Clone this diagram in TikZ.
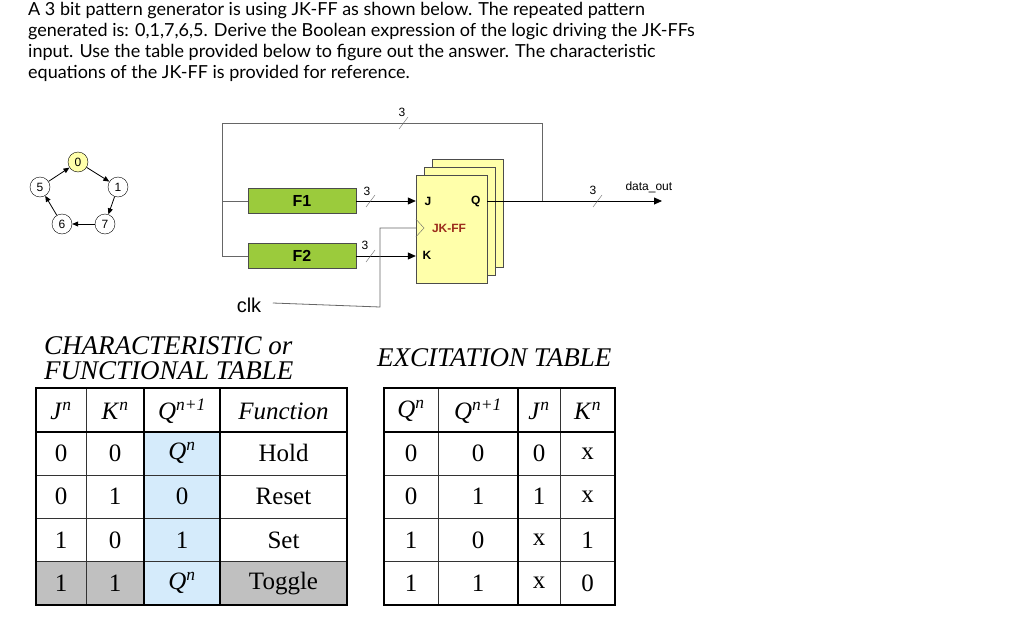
\documentclass[tikz,border=0pt]{standalone}
\usepackage{fontspec}
\setmainfont{Liberation Serif}
\newfontfamily\latofont{Lato}
\newfontfamily\arialfont{Liberation Sans}
\usetikzlibrary{arrows.meta, positioning, calc}
\definecolor{fgreen}{HTML}{9BCB3C}
\definecolor{fyellow}{HTML}{FFFFAA}
\definecolor{sblue}{HTML}{D5EBFB}
\definecolor{tgray}{HTML}{C0C0C0}
\definecolor{ffred}{HTML}{9B2C1C}
\newcommand{\sym}[2]{\textit{#1}\textsuperscript{\textit{#2}}}
\begin{document}
\begin{tikzpicture}[x=1pt,y=-1pt]
% Define styles
\tikzset{
  state/.style={circle, draw=black, fill=white, minimum size=20pt, inner sep=0pt, font=\arialfont\fontsize{12}{12}\selectfont},
  func/.style={rectangle, draw=black!70, fill=fgreen, minimum width=108pt, minimum height=25pt, font=\arialfont\bfseries\fontsize{16}{16}\selectfont},
  ff/.style={rectangle, draw=black!70, fill=fyellow, minimum width=71pt, minimum height=108pt},
  wire/.style={draw=black!60, thick},
  arrow/.style={wire, -{Triangle[length=8pt,width=7pt]}, draw=black},
  sarrow/.style={-{Triangle[length=6pt,width=5pt]}, thick},
  pin/.style={font=\arialfont\bfseries\fontsize{12}{12}\selectfont},
  lbl/.style={font=\arialfont\fontsize{12}{12}\selectfont},
  cell/.style={font=\fontsize{25}{25}\selectfont}
}
\useasboundingbox (0,0) rectangle (1024,623);
% Question text
\node[anchor=north west, align=left, inner sep=0pt, font=\latofont\fontsize{18}{21}\selectfont] (question) at (28,2)
  {A 3 bit pattern generator is using JK-FF as shown below. The repeated pattern\\
   generated is: 0,1,7,6,5. Derive the Boolean expression of the logic driving the JK-FFs\\
   input. Use the table provided below to figure out the answer. The characteristic\\
   equations of the JK-FF is provided for reference.};
% State diagram
\node[state, fill=fyellow] (s0) at (78,162) {0};
\node[state] (s1) at (118,187) {1};
\node[state] (s7) at (105,224) {7};
\node[state] (s6) at (62,224) {6};
\node[state] (s5) at (40,187) {5};
\draw[sarrow] (s0) -- (s1);
\draw[sarrow] (s1) -- (s7);
\draw[sarrow] (s7) -- (s6);
\draw[sarrow] (s6) -- (s5);
\draw[sarrow] (s5) -- (s0);
% Flip-flops (stacked)
\node[ff] (ff3) at (467.5,213) {};
\node[ff] (ff2) at (459.5,221) {};
\node[ff] (ff1) at (451.5,229) {};
\node[pin, anchor=west] (pinJ) at (421,201) {J};
\node[pin, anchor=east] (pinQ) at (484,201) {Q};
\node[pin, anchor=west] (pinK) at (419,255) {K};
\node[font=\arialfont\bfseries\fontsize{12}{12}\selectfont, text=ffred] (fflabel) at (449,228) {JK-FF};
\draw[draw=black!60] ([yshift=-9pt]ff1.west |- 0,228) -- (424,228) -- ([yshift=9pt]ff1.west |- 0,228);
% Logic blocks
\node[func] (F1) at (302,201) {F1};
\node[func] (F2) at (302,256) {F2};
% Connections
\coordinate (Jin) at (ff1.west |- F1);
\coordinate (Kin) at (ff1.west |- F2);
\coordinate (Qout) at (ff1.east |- F1);
\coordinate (tapQ) at (542,201);
\coordinate (tapL) at (222,201);
\coordinate (out) at (662,201);
\draw[arrow] (F1) -- (Jin);
\draw[arrow] (F2) -- (Kin);
\draw[arrow] (Qout) -- (out);
\draw[wire] (tapQ) -- (542,123) -- (222,123) -- (222,256) -- (F2.west);
\draw[wire] (tapL) -- (F1.west);
\node[lbl, anchor=west] (dataout) at (622,187) {data\_out};
\node[font=\arialfont\fontsize{20}{20}\selectfont] (clk) at (249,305) {clk};
\draw[wire] (clk.east) ++(8pt,2pt) -- (380,307) -- (380,228) -- (ff1.west |- 0,228);
% Bus width marks
\foreach \x/\y in {403/123, 370/201, 370/256, 597/201} {
  \draw[black!60] (\x-4,\y+6) -- (\x+5,\y-6);
}
\node[lbl] (w1) at (402,112) {3};
\node[lbl] (w2) at (367,191) {3};
\node[lbl] (w3) at (365,245) {3};
\node[lbl] (w4) at (593,190) {3};
% Table titles
\node[anchor=west, align=left, font=\itshape\fontsize{27}{25}\selectfont, inner sep=0pt] (chartitle) at (44,358) {CHARACTERISTIC or\\FUNCTIONAL TABLE};
\node[anchor=west, font=\itshape\fontsize{27}{27}\selectfont, inner sep=0pt] (exctitle) at (377,358) {EXCITATION TABLE};
% Characteristic table
\fill[sblue] (144,432) rectangle (220,605);
\fill[tgray] (36,561) rectangle (144,605);
\fill[tgray] (220,561) rectangle (347,605);
\foreach \y in {475,518,561} \draw[black!80] (36,\y) -- (347,\y);
\draw[black!80] (86,388) -- (86,605);
\draw[line width=1.6pt] (144,388) -- (144,605) (220,388) -- (220,605) (36,432) -- (347,432);
\draw[line width=2pt] (36,388) rectangle (347,605);
\foreach \t [count=\i] in {\sym{J}{n},\sym{K}{n},\sym{Q}{n+1},\textit{Function}} {
  \pgfmathsetmacro{\cx}{{0,61,115,182,283.5}[\i]}
  \node[cell] (ch\i) at (\cx,411) {\t};
}
\foreach \a/\b/\c/\d [count=\r] in {0/0/\sym{Q}{n}/Hold, 0/1/0/Reset, 1/0/1/Set, 1/1/\sym{Q}{n}/Toggle} {
  \pgfmathsetmacro{\cy}{410+43.3*\r}
  \node[cell] (ca\r) at (61,\cy) {\a};
  \node[cell] (cb\r) at (115,\cy) {\b};
  \node[cell] (cc\r) at (182,\cy) {\c};
  \node[cell] (cd\r) at (283.5,\cy) {\d};
}
% Excitation table
\foreach \y in {475,518,561} \draw[black!80] (384,\y) -- (615,\y);
\draw[black!80] (438,388) -- (438,605) (560,388) -- (560,605);
\draw[line width=1.6pt] (518,388) -- (518,605) (384,432) -- (615,432);
\draw[line width=2pt] (384,388) rectangle (615,605);
\foreach \t [count=\i] in {\sym{Q}{n},\sym{Q}{n+1},\sym{J}{n},\sym{K}{n}} {
  \pgfmathsetmacro{\cx}{{0,411,478,539,587.5}[\i]}
  \node[cell] (eh\i) at (\cx,411) {\t};
}
\foreach \a/\b/\c/\d [count=\r] in {0/0/0/x, 0/1/1/x, 1/0/x/1, 1/1/x/0} {
  \pgfmathsetmacro{\cy}{410+43.3*\r}
  \node[cell] (ea\r) at (411,\cy) {\a};
  \node[cell] (eb\r) at (478,\cy) {\b};
  \node[cell] (ec\r) at (539,\cy) {\c};
  \node[cell] (ed\r) at (587.5,\cy) {\d};
}
\end{tikzpicture}
\end{document}
